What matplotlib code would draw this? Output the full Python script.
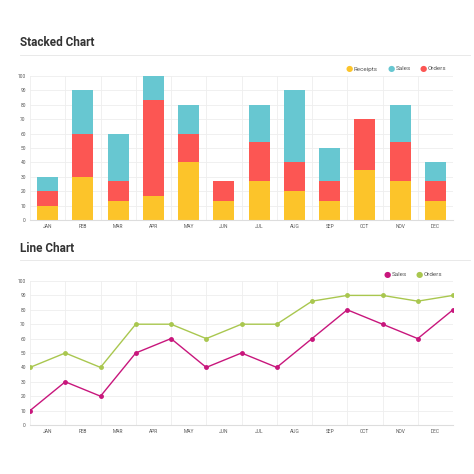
import matplotlib.pyplot as plt
import numpy as np

months = ['JAN', 'FEB', 'MAR', 'APR', 'MAY', 'JUN', 'JUL', 'AUG', 'SEP', 'OCT', 'NOV', 'DEC']
receipts = [10, 30, 13, 17, 40, 13, 27, 20, 13, 35, 27, 13]
orders = [10, 30, 14, 66, 20, 14, 27, 20, 14, 35, 27, 14]
sales = [10, 30, 33, 17, 20, 0, 26, 50, 23, 0, 26, 13]

line_sales = [10, 30, 20, 50, 60, 40, 50, 40, 60, 80, 70, 60, 80]
line_orders = [40, 50, 40, 70, 70, 60, 70, 70, 86, 90, 90, 86, 90]

yellow, teal, red = '#fcc42a', '#67c7d1', '#fc5653'
magenta, green = '#c8167c', '#a9c74f'

plt.rcParams['font.family'] = ['Roboto', 'DejaVu Sans']
fig = plt.figure(figsize=(4.74, 4.74), dpi=100)
W = H = 474.0


def axes_px(x0, y0, x1, y1):
    return fig.add_axes([x0 / W, 1 - y1 / H, (x1 - x0) / W, (y1 - y0) / H])


def style(ax):
    ax.set_ylim(0, 100)
    ax.set_yticks(range(0, 101, 10))
    ax.tick_params(labelsize=3.5, colors='#555555', length=0, pad=3)
    ax.grid(axis='y', color='#eeeeee', lw=0.6)
    for s in ax.spines.values():
        s.set_visible(False)
    ax.spines['bottom'].set_visible(True)
    ax.spines['bottom'].set_color('#dddddd')
    ax.set_axisbelow(True)


def header(y, text):
    fig.text(20 / W, 1 - y / H, text, fontsize=8.5, fontweight='bold', color='#333333', va='center')
    fig.add_artist(plt.Line2D([20 / W, 470 / W], [1 - (y + 12) / H] * 2, color='#e5e5e5', lw=0.6))


def legend(x, y, items):
    for label, c in items:
        fig.text(x / W, 1 - y / H, '\u25cf', color=c, fontsize=6, va='center', family='DejaVu Sans')
        fig.text((x + 8) / W, 1 - y / H, label, color='#555555', fontsize=4.5, va='center')
        x += 14 + len(label) * 3.5


# stacked chart
header(43, 'Stacked Chart')
legend(346, 69, [('Receipts', yellow), ('Sales', teal), ('Orders', red)])
ax = axes_px(30, 76, 453, 220)
x = np.arange(len(months))
r = np.array(receipts)
o = np.array(orders)
ax.bar(x, r, 0.6, color=yellow)
ax.bar(x, o, 0.6, bottom=r, color=red)
ax.bar(x, sales, 0.6, bottom=r + o, color=teal)
ax.set_xlim(-0.5, len(months) - 0.5)
ax.set_xticks(x, months)
ax.set_xticks(np.arange(-0.5, len(months)), minor=True)
ax.tick_params(which='minor', length=0)
ax.grid(axis='x', which='minor', color='#eeeeee', lw=0.6)
style(ax)

# line chart
header(248, 'Line Chart')
legend(384, 275, [('Sales', magenta), ('Orders', green)])
ax2 = axes_px(30, 281, 453, 425)
px = np.arange(len(line_sales))
ax2.plot(px, line_orders, color=green, lw=1, marker='o', ms=2.5)
ax2.plot(px, line_sales, color=magenta, lw=1, marker='o', ms=2.5)
ax2.set_xlim(0, len(months))
ax2.set_xticks(np.arange(len(months)) + 0.5, months)
ax2.set_xticks(px, minor=True)
ax2.tick_params(which='minor', length=0)
ax2.grid(axis='x', which='minor', color='#eeeeee', lw=0.6)
style(ax2)

fig.savefig('out.png', dpi=100, facecolor='white')
